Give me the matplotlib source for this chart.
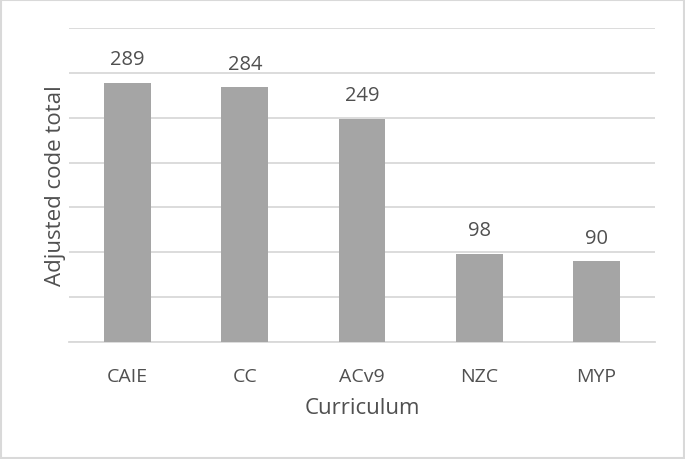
import matplotlib
matplotlib.use("Agg")
import matplotlib.pyplot as plt
from matplotlib.patches import Rectangle

categories = ["CAIE", "CC", "ACv9", "NZC", "MYP"]
values = [289, 284, 249, 98, 90]

plt.rcParams['font.family'] = ['Open Sans', 'DejaVu Sans']
txt = '#505050'

fig = plt.figure(figsize=(6.85, 4.6), dpi=100)
ax = fig.add_axes([69/685, 1-343/460, (655-69)/685, (343-29)/460])
x = range(len(categories))
bars = ax.bar(x, values, width=0.4, color='#a5a5a5', zorder=3)
ax.set_ylim(0, 350)
ax.set_xlim(-0.5, len(categories)-0.5)
ax.set_yticks(range(0, 351, 50))
ax.set_yticklabels([])
ax.tick_params(axis='y', length=0, pad=0)
ax.tick_params(axis='x', length=0, pad=18, labelsize=14, labelcolor=txt)
ax.set_xticks(list(x))
ax.set_xticklabels(categories)
ax.grid(axis='y', color='#d9d9d9', linewidth=1.3, zorder=0)
for s in ['top', 'right', 'left']:
    ax.spines[s].set_visible(False)
ax.spines['bottom'].set_color('#d9d9d9')
ax.spines['bottom'].set_linewidth(1.3)
for xi, v in zip(x, values):
    ax.annotate(str(v), (xi, v), xytext=(0, 17), textcoords='offset points',
                ha='center', va='center', fontsize=14.5, color=txt)
ax.set_xlabel('Curriculum', fontsize=16, color=txt, labelpad=9)
ax.set_ylabel('Adjusted code total', fontsize=16, color=txt, labelpad=2)
fig.patches.append(Rectangle((0.002, 0.003), 0.996, 0.994, transform=fig.transFigure,
                             fill=False, edgecolor='#d9d9d9', linewidth=1.5))
fig.savefig('out.png', dpi=100)
